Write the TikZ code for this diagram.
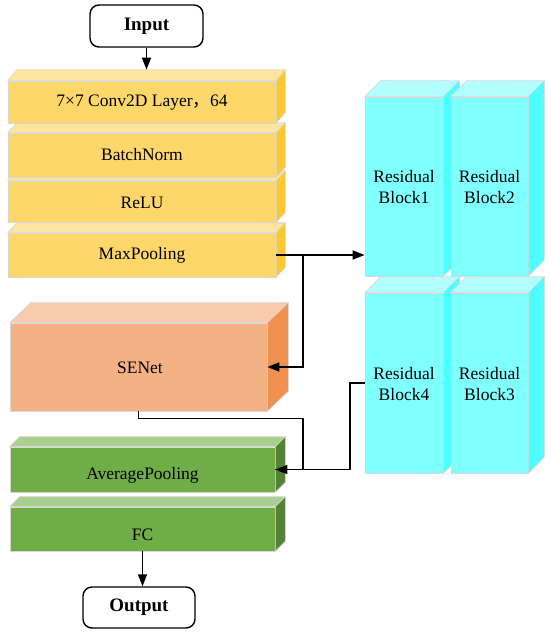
\documentclass[tikz,border=0pt]{standalone}
\usepackage{fontspec}
\setmainfont{Liberation Serif}
\newfontfamily\cjk{Noto Sans CJK SC}
\usetikzlibrary{arrows.meta}
\definecolor{yF}{RGB}{253,215,105}
\definecolor{yT}{RGB}{253,228,160}
\definecolor{yS}{RGB}{252,200,46}
\definecolor{cF}{RGB}{128,255,255}
\definecolor{cT}{RGB}{179,255,255}
\definecolor{cS}{RGB}{77,255,255}
\definecolor{oF}{RGB}{244,177,131}
\definecolor{oT}{RGB}{248,203,173}
\definecolor{oS}{RGB}{240,145,80}
\definecolor{gF}{RGB}{112,173,71}
\definecolor{gT}{RGB}{169,208,142}
\definecolor{gS}{RGB}{84,130,53}
\definecolor{edge}{RGB}{215,215,215}
\newcommand\cuboid[8]{%
  \node[face, fill=#2F, minimum width=#5pt, minimum height=#6pt] (#1) at (#3,#4) {};
  \path[face, fill=#2T] (#1.north west) -- ++(#7,-#8) -- ([shift={(#7,-#8)}]#1.north east) -- (#1.north east) -- cycle;
  \path[face, fill=#2S] (#1.north east) -- ++(#7,-#8) -- ([shift={(#7,-#8)}]#1.south east) -- (#1.south east) -- cycle;
}
\begin{document}
\begin{tikzpicture}[x=1pt,y=-1pt,
  face/.style={draw=edge, line width=0.6pt, inner sep=0pt, rectangle},
  lbl/.style={font=\fontsize{17.5}{20.5}\selectfont, align=center, inner sep=0pt},
  term/.style={draw=black, line width=1.4pt, rounded corners=9pt, fill=white, inner sep=0pt,
    font=\fontsize{19}{22}\selectfont\bfseries},
  conn/.style={line width=1.4pt, draw=black},
  arr/.style={conn, -{Triangle[length=12pt,width=9pt]}}]
\useasboundingbox (0,0) rectangle (550,636);
% terminals
\node[term, minimum width=113pt, minimum height=42pt] (in) at (146.5,26) {Input};
\node[term, minimum width=112pt, minimum height=41pt] (out) at (139,607.5) {Output};
% yellow stack (drawn bottom to top)
\cuboid{mp}{y}{142}{255}{268}{44}{9}{10}
\cuboid{relu}{y}{142}{201.5}{268}{41}{9}{10}
\cuboid{bn}{y}{142}{155}{268}{44}{9}{10}
\cuboid{conv}{y}{142}{102}{268}{42}{9}{11}
\node[lbl] (tconv) at (142,103) {7×7 Conv2D Layer{\cjk ，}64};
\node[lbl] (tbn) at (142,155) {BatchNorm};
\node[lbl] (trelu) at (142,203) {ReLU};
\node[lbl] (tmp) at (142,255) {MaxPooling};
% SENet
\cuboid{se}{o}{138.5}{367}{257}{88}{21}{20}
\node[lbl] (tse) at (140,368) {SENet};
% green
\cuboid{ap}{g}{142.5}{469.5}{265}{45}{10}{10}
\cuboid{fc}{g}{142.5}{529}{265}{44}{10}{10}
\node[lbl] (tap) at (142.5,475) {AveragePooling};
\node[lbl] (tfc) at (142.5,535) {FC};
% residual blocks
\cuboid{rb1}{c}{404}{186.5}{78}{179}{16}{16}
\cuboid{rb2}{c}{489.5}{186.5}{77}{179}{16}{16}
\cuboid{rb4}{c}{404}{383}{78}{180}{16}{16}
\cuboid{rb3}{c}{489.5}{383}{77}{180}{16}{16}
\node[lbl] (t1) at (404,187) {Residual\\Block1};
\node[lbl] (t2) at (489.5,187) {Residual\\Block2};
\node[lbl] (t4) at (404,384) {Residual\\Block4};
\node[lbl] (t3) at (489.5,384) {Residual\\Block3};
% connectors
\coordinate (convtop) at ([shift={(0,-11)}]conv.north);
\coordinate (j1) at (303,255);
\coordinate (j2) at (350,469.5);
\draw[arr] (in.south) -- (in.south |- convtop);
\draw[arr] (mp.east) -- (mp.east -| rb1.west);
\draw[arr] (j1) |- (se.east);
\draw[arr] (se.south) -- ++(0,7) -| (303,469.5) -- (ap.east);
\draw[conn] (rb4.west) -| (j2) -- (ap.east);
\draw[arr] (fc.south) -- (fc.south |- out.north);
\end{tikzpicture}
\end{document}
